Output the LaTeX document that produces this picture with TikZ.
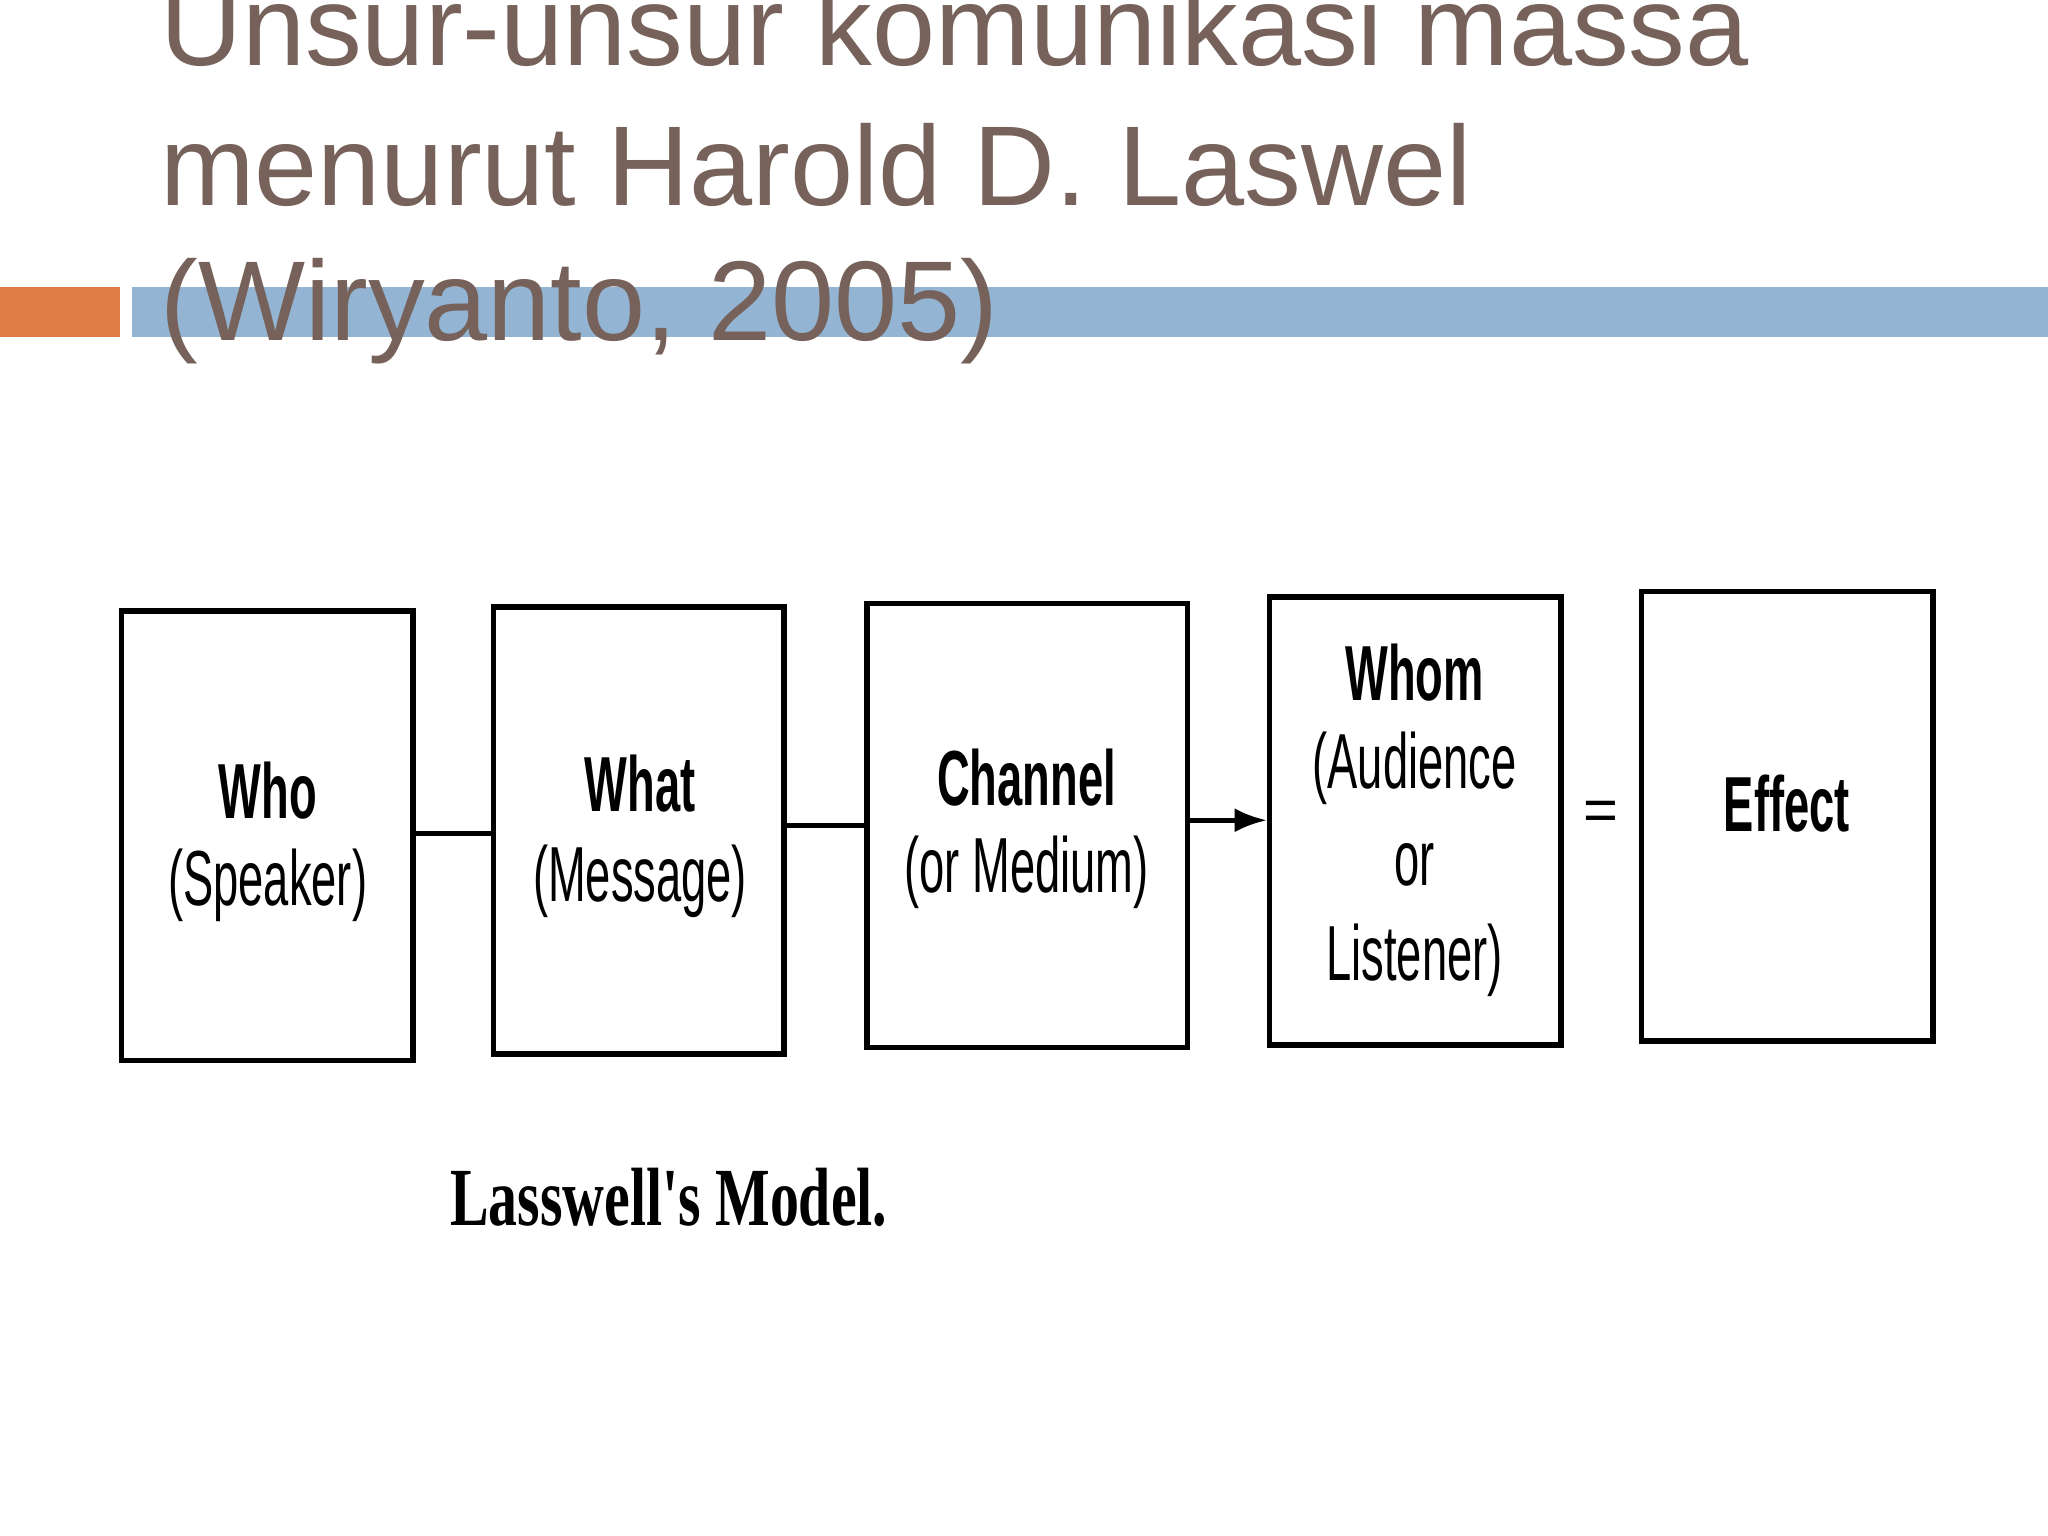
\documentclass[tikz,border=0pt]{standalone}
\usepackage{fontspec}
\setmainfont{Liberation Sans}
\newfontfamily\capfont{Liberation Serif}
\usetikzlibrary{arrows.meta}
\definecolor{titlec}{HTML}{76625A}
\definecolor{orangebar}{HTML}{E07B45}
\definecolor{bluebar}{HTML}{93B5D3}
\tikzset{
  box/.style={draw,line width=1.2pt,inner sep=0pt},
  lbl/.style={font=\fontsize{17pt}{22pt}\selectfont,inner sep=0pt},
  ttl/.style={anchor=base west,inner sep=0pt,text=titlec,font=\fontsize{24.7pt}{30pt}\selectfont},
  conn/.style={line width=1pt}
}
\newcommand{\nar}[1]{\scalebox{0.58}[1]{#1}}
\begin{document}
\begin{tikzpicture}[x=0.01cm,y=-0.01cm]
\useasboundingbox (0,0) rectangle (1568,1176);
\fill[white] (0,0) rectangle (1568,1176);
\fill[orangebar] (0,220) rectangle (92,258);
\fill[bluebar] (101,220) rectangle (1568,258);
\node[ttl] (t1) at (122,50) {Unsur-unsur komunikasi massa};
\node[ttl] (t2) at (122,157) {menurut Harold D. Laswel};
\node[ttl] (t3) at (122,261) {(Wiryanto, 2005)};
% boxes
\node[box,minimum width=2.23cm,minimum height=3.44cm] (who) at (204.5,640) {};
\node[box,minimum width=2.22cm,minimum height=3.42cm] (what) at (489,636) {};
\node[box,minimum width=2.45cm,minimum height=3.40cm] (chan) at (786.5,632) {};
\node[box,minimum width=2.23cm,minimum height=3.43cm] (whom) at (1083.5,628.5) {};
\node[box,minimum width=2.23cm,minimum height=3.44cm] (eff) at (1368.5,625) {};
% labels
\node[lbl] at (205,605) {\nar{\textbf{Who}}};
\node[lbl] at (205,678) {\nar{(Speaker)}};
\node[lbl] at (490,600) {\nar{\textbf{What}}};
\node[lbl] at (490,675) {\nar{(Message)}};
\node[lbl] at (786,595) {\nar{\textbf{Channel}}};
\node[lbl] at (786,668) {\nar{(or Medium)}};
\node[lbl] at (1083,515) {\nar{\textbf{Whom}}};
\node[lbl] at (1083,588) {\nar{(Audience}};
\node[lbl] at (1083,662) {\nar{or}};
\node[lbl] at (1083,735) {\nar{Listener)}};
\node[lbl] at (1368,615) {\nar{\textbf{Effect}}};
% connectors
\draw[conn] (who.east |- 0,638) -- (what.west |- 0,638);
\draw[conn] (what.east |- 0,632) -- (chan.west |- 0,632);
\draw[conn,-{Latex[length=7pt]}] (chan.east |- 0,628) -- (whom.west |- 0,628);
\node[inner sep=0pt,font=\fontsize{13pt}{16pt}\selectfont] (eq) at (1226,625) {=};
\node[inner sep=0pt,anchor=base,font=\capfont\bfseries\fontsize{18pt}{22pt}\selectfont] (cap) at (512,938) {\scalebox{0.7}[1]{Lasswell's Model.}};
\end{tikzpicture}
\end{document}
